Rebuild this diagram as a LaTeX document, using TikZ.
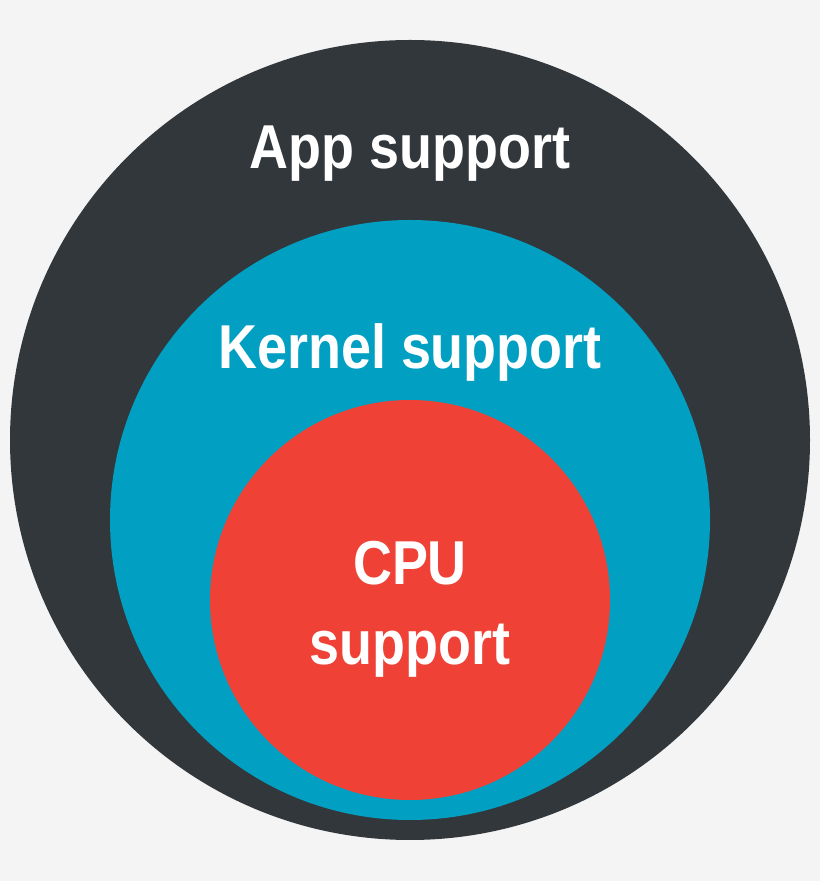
\documentclass[tikz,border=0pt]{standalone}
\usepackage{fontspec}
\setmainfont{Liberation Sans}
\definecolor{bg}{HTML}{F4F4F4}
\definecolor{darkc}{HTML}{32373C}
\definecolor{bluec}{HTML}{019FC2}
\definecolor{redc}{HTML}{EF4136}
\begin{document}
\begin{tikzpicture}[x=1pt,y=1pt,
  lbl/.style={text=white,font=\bfseries\fontsize{62}{80}\selectfont,align=center,xscale=0.87,transform shape}]
\fill[bg] (0,0) rectangle (820,881);
\useasboundingbox (0,0) rectangle (820,881);
\fill[darkc] (410,441) circle (400);
\fill[bluec] (410,361) circle (300);
\fill[redc] (410,281) circle (200);
\node[lbl] (app) at (410,727) {App support};
\node[lbl] (kern) at (410,529) {Kernel support};
\node[lbl] (cpu) at (410,272) {CPU\\support};
\end{tikzpicture}
\end{document}
